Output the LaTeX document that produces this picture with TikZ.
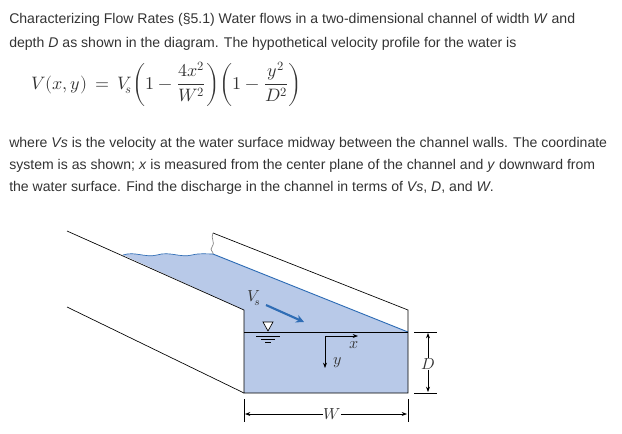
\documentclass[tikz,border=0pt]{standalone}
\usepackage{fontspec}
\setmainfont{Liberation Sans}
\usepackage{unicode-math}
\setmathfont{Latin Modern Math}
\usetikzlibrary{arrows.meta}
\definecolor{txt}{HTML}{333333}
\definecolor{water}{HTML}{B8C9E8}
\definecolor{wblue}{HTML}{2F6DB5}
\tikzset{
 para/.style={anchor=west,text=txt,font=\fontsize{10.55}{12}\selectfont,inner sep=0},
 edge/.style={draw=black,line width=0.5pt},
 dim/.style={line width=0.5pt,-{Stealth[length=4pt,width=3pt]}},
 lab/.style={font=\fontsize{12}{14}\selectfont,inner sep=0,text=txt}
}
\begin{document}
\begin{tikzpicture}[x=0.75pt,y=-0.75pt]
\useasboundingbox (0,0) rectangle (622,433);
\node[para] (l1) at (9,20) {Characterizing Flow Rates (§5.1) Water flows in a two-dimensional channel of width \textit{W} and};
\node[para] (l2) at (9,44) {depth \textit{D} as shown in the diagram. The hypothetical velocity profile for the water is};
\node[anchor=west,inner sep=0,text=txt,font=\fontsize{13.5}{16}\selectfont] (eq) at (31,84) {$\displaystyle V(x,y)\,=\,V_{\!s}\!\left(1-\frac{4x^2}{W^2}\right)\!\left(1-\frac{y^2}{D^2}\right)$};
\node[para] (l3) at (9,144) {where \textit{Vs} is the velocity at the water surface midway between the channel walls. The coordinate};
\node[para] (l4) at (9,166) {system is as shown; \textit{x} is measured from the center plane of the channel and \textit{y} downward from};
\node[para] (l5) at (9,188) {the water surface. Find the discharge in the channel in terms of \textit{Vs}, \textit{D}, and \textit{W}.};
% water
\fill[water] (123,255) .. controls (135,251) and (145,258) .. (157,255) .. controls (170,251) and (180,258) .. (192,255) .. controls (200,253) and (206,254) .. (213,254) -- (408,332) -- (408,393) -- (244,393) -- (244,310) -- cycle;
\draw[wblue,line width=0.5pt] (123,255) .. controls (135,251) and (145,258) .. (157,255) .. controls (170,251) and (180,258) .. (192,255) .. controls (200,253) and (206,254) .. (213,254);
\draw[wblue,line width=0.7pt] (213,254) -- (408,332);
% channel edges
\coordinate (a) at (67,231); \coordinate (b) at (244,310);
\coordinate (c) at (67,307); \coordinate (d) at (244,393);
\coordinate (e) at (408,393); \coordinate (f) at (408,310);
\coordinate (g) at (213,233);
\draw[edge] (a) -- (b) -- (d) -- (e) -- (f) -- (g);
\draw[edge] (c) -- (d);
\draw[edge,gray] (g) .. controls (210,238) and (216,243) .. (212,247) .. controls (209,250) and (214,252) .. (213,254);
\draw[edge] (244,332) coordinate (s1) -- (408,332) coordinate (s2);
% Vs
\node[lab] (vs) at (254,298) {$V_{\!s}$};
\draw[wblue,line width=1.6pt,-{Stealth[length=6pt,width=6pt]}] (266,305) -- (304,322);
% surface symbol
\draw[line width=0.5pt,fill=white] (263,322) -- (273,322) -- (268,331) -- cycle;
\draw[line width=0.5pt] (256,336) -- (280,336) (261,339) -- (275,339) (265,342) -- (271,342);
% axes
\coordinate (o) at (325,336);
\draw[dim] (o) -- (358,336);
\draw[dim] (o) -- (325,368);
\node[lab] (xl) at (354,345) {$x$};
\node[lab] (yl) at (338,363) {$y$};
% D
\draw[line width=0.5pt] (414,332) -- (437,332) (414,393) -- (437,393);
\node[lab] (dl) at (428,364) {$D$};
\draw[dim] (dl.north) -- (428,333);
\draw[dim] (dl.south) -- (428,392);
% W
\draw[line width=0.5pt] (244,399) -- (244,422) (408,399) -- (408,422);
\node[lab] (wl) at (332,414) {$W$};
\draw[dim] (wl.west) -- (245,414);
\draw[dim] (wl.east) -- (407,414);
\end{tikzpicture}
\end{document}
